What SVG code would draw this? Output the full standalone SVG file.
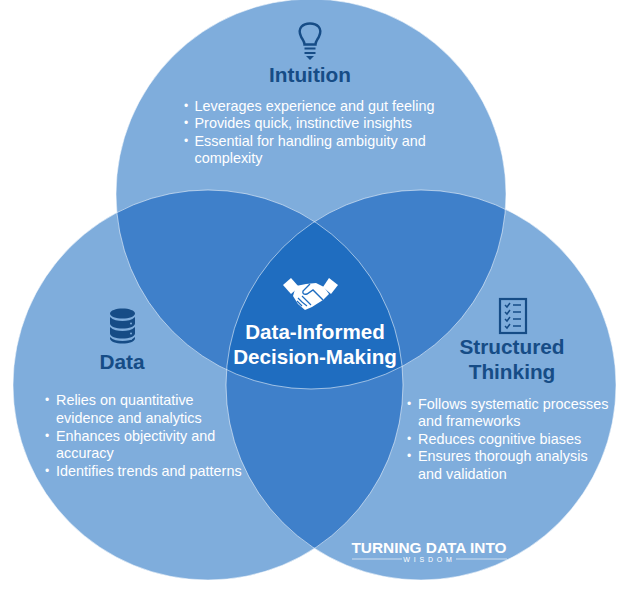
<svg xmlns="http://www.w3.org/2000/svg" width="644" height="605" viewBox="0 0 644 605">
<style>
.t{font-family:"Liberation Sans",Arial,sans-serif}
.h{font-size:20.800px;font-weight:700;fill:#164c86;text-anchor:middle}
.b{font-size:14.400px;fill:#fff}
.d{font-size:12px;fill:#fff}
.c{font-size:20.600px;font-weight:700;fill:#fff;text-anchor:middle}
.i{fill:#164c86}
.o{fill:none;stroke:#164c86}
.base{fill:#7faddc}
.two{fill:#3f80ca}
.three{fill:#1f6dc0}
.edge{fill:none;stroke:#fff;stroke-opacity:.55;stroke-width:1}
</style>
<defs>
<clipPath id="cT"><circle cx="311" cy="194" r="195"/></clipPath>
<clipPath id="cL"><circle cx="208" cy="385" r="195"/></clipPath>
<clipPath id="cR"><circle cx="421" cy="385" r="195"/></clipPath>
</defs>
<rect width="644" height="605" fill="#fff"/>
<g id="circles">
<circle class="base" cx="311" cy="194" r="195"/>
<circle class="base" cx="208" cy="385" r="195"/>
<circle class="base" cx="421" cy="385" r="195"/>
<g clip-path="url(#cT)"><circle class="two" cx="208" cy="385" r="195"/><circle class="two" cx="421" cy="385" r="195"/></g>
<g clip-path="url(#cL)"><circle class="two" cx="421" cy="385" r="195"/></g>
<g clip-path="url(#cL)"><g clip-path="url(#cR)"><circle class="three" cx="311" cy="194" r="195"/></g></g>
<circle class="edge" cx="311" cy="194" r="195"/>
<circle class="edge" cx="208" cy="385" r="195"/>
<circle class="edge" cx="421" cy="385" r="195"/>
</g>
<g id="node-intuition">
<path class="o" stroke-width="2.400" d="M304.500 44.500C304.500 41 302 39 301 36.500C297 28 303 23.500 310 23.500C317 23.500 323 28 319 36.500C318 39 315.500 41 315.500 44.500Z"/>
<path class="o" stroke-width="2" d="M304.500 48.500H315.500M304.500 53H315.500"/>
<path class="i" d="M306 56H314L310 60Z"/>
<text class="t h" x="310" y="82">Intuition</text>
<g class="t">
<text class="d" x="184" y="110">•</text><text class="b" x="194.500" y="111">Leverages experience and gut feeling</text>
<text class="d" x="184" y="127">•</text><text class="b" x="194.500" y="128">Provides quick, instinctive insights</text>
<text class="d" x="184" y="145">•</text><text class="b" x="194.500" y="146">Essential for handling ambiguity and</text>
<text class="b" x="194.500" y="163">complexity</text>
</g>
</g>
<g id="node-data">
<path class="i" d="M110 313.500C110 310.500 116 308.500 122.500 308.500C129 308.500 135 310.500 135 313.500C135 316.500 129 318.500 122.500 318.500C116 318.500 110 316.500 110 313.500Z"/>
<path class="i" d="M110 317C113 320 118 321 122.500 321C127 321 132 320 135 317V323.500C135 326.500 129 328.500 122.500 328.500C116 328.500 110 326.500 110 323.500Z"/>
<path class="i" d="M110 327C113 330 118 331 122.500 331C127 331 132 330 135 327V333.500C135 336.500 129 338.500 122.500 338.500C116 338.500 110 336.500 110 333.500Z"/>
<path class="i" d="M110 337C113 340 118 341 122.500 341C127 341 132 340 135 337V338.500C135 341.500 129 343.500 122.500 343.500C116 343.500 110 341.500 110 338.500Z"/>
<circle cx="131" cy="323.500" r="1" fill="#7faddc"/><circle cx="131" cy="333.500" r="1" fill="#7faddc"/><circle cx="131" cy="339" r="1" fill="#7faddc"/>
<text class="t h" x="122" y="369">Data</text>
<g class="t">
<text class="d" x="45" y="404">•</text><text class="b" x="56" y="405">Relies on quantitative</text>
<text class="b" x="56" y="423">evidence and analytics</text>
<text class="d" x="45" y="440">•</text><text class="b" x="56" y="441">Enhances objectivity and</text>
<text class="b" x="56" y="458">accuracy</text>
<text class="d" x="45" y="475">•</text><text class="b" x="56" y="476">Identifies trends and patterns</text>
</g>
</g>
<g id="node-structured">
<rect class="o" x="500" y="299" width="26" height="34" stroke-width="2.200"/>
<path class="o" stroke-width="1.500" d="M505 305L507 307L510 303M505 312L507 314L510 310M505 319L507 321L510 317M505 326L507 328L510 324M513 305H521M513 312H521M513 319H521M513 326H521"/>
<text class="t h" x="512" y="354">Structured</text>
<text class="t h" x="512" y="379">Thinking</text>
<g class="t">
<text class="d" x="407" y="408">•</text><text class="b" x="418" y="409">Follows systematic processes</text>
<text class="b" x="418" y="426">and frameworks</text>
<text class="d" x="407" y="443">•</text><text class="b" x="418" y="444">Reduces cognitive biases</text>
<text class="d" x="407" y="460">•</text><text class="b" x="418" y="461">Ensures thorough analysis</text>
<text class="b" x="418" y="479">and validation</text>
</g>
</g>
<g id="node-center">
<path d="M283 285L291 278L299 287L291 294Z" fill="#fff"/>
<path d="M329 278L338 285L331 294L323 287Z" fill="#fff"/>
<path d="M296 286L306 284L316 283L324 287L329 294L323 300L312 307L305 310L298 304L293 296Z" fill="#fff"/>
<path d="M310 284L303 291Q302 295 307 294L313 290L323 300" fill="none" stroke="#1f6dc0" stroke-width="1.400"/>
<path d="M298 298L302 302M302 302L307 306M297 301L302 306M302 296L307 301M307 301L311 305" fill="none" stroke="#1f6dc0" stroke-width="1.200"/>
<text class="t c" x="315" y="339">Data-Informed</text>
<text class="t c" x="315" y="364">Decision-Making</text>
</g>
<g id="logo">
<text class="t" x="429" y="553" font-size="15.400" font-weight="700" fill="#fff" text-anchor="middle">TURNING DATA INTO</text>
<path d="M352 559H402M456 559H507" stroke="#fff" stroke-opacity=".6" stroke-width="1"/>
<text class="t" x="429.500" y="562" font-size="7" fill="#fff" text-anchor="middle" letter-spacing="3.800">WISDOM</text>
</g>
</svg>
